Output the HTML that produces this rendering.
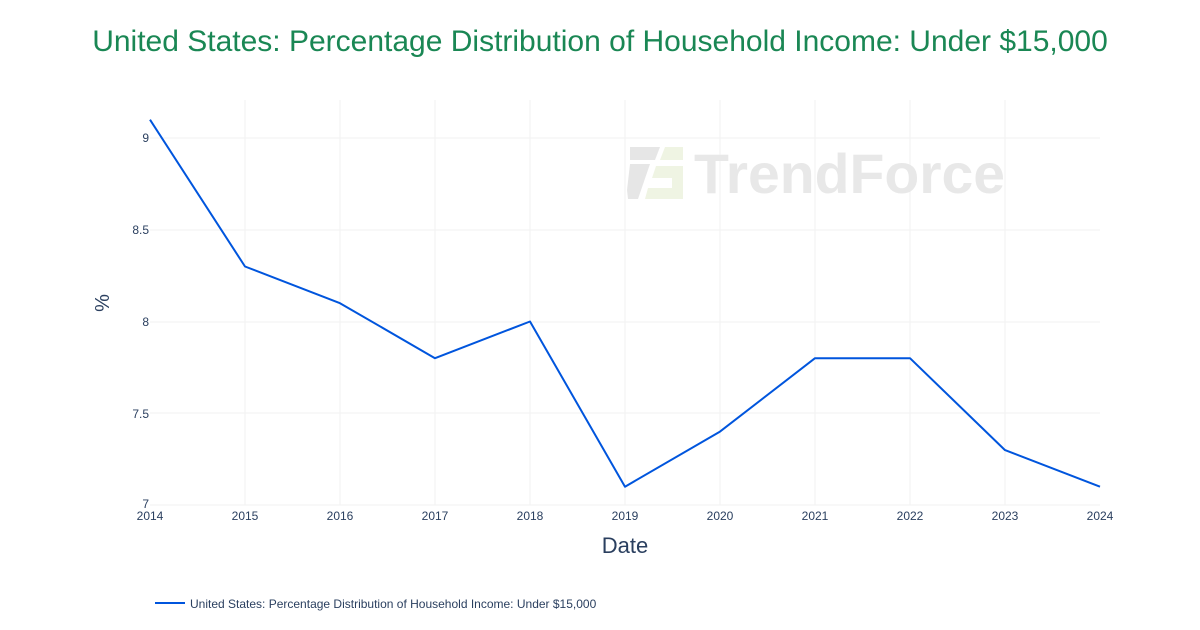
<!DOCTYPE html>
<html><head><meta charset="utf-8"><style>
html,body{margin:0;padding:0;background:#fff;}
svg{display:block;}
text{font-family:"Liberation Sans",Arial,sans-serif;}
</style></head><body>
<svg width="1200" height="630" viewBox="0 0 1200 630" xmlns="http://www.w3.org/2000/svg">
<rect width="1200" height="630" fill="#fff"/>
<text x="600" y="51" text-anchor="middle" font-size="30" fill="#1a8754">United States: Percentage Distribution of Household Income: Under $15,000</text>
<g stroke="#f2f2f2" stroke-width="1">
<line x1="245" y1="100" x2="245" y2="505"/>
<line x1="340" y1="100" x2="340" y2="505"/>
<line x1="435" y1="100" x2="435" y2="505"/>
<line x1="530" y1="100" x2="530" y2="505"/>
<line x1="625" y1="100" x2="625" y2="505"/>
<line x1="720" y1="100" x2="720" y2="505"/>
<line x1="815" y1="100" x2="815" y2="505"/>
<line x1="910" y1="100" x2="910" y2="505"/>
<line x1="1005" y1="100" x2="1005" y2="505"/>
<line x1="150" y1="138" x2="1100" y2="138"/>
<line x1="150" y1="230" x2="1100" y2="230"/>
<line x1="150" y1="322" x2="1100" y2="322"/>
<line x1="150" y1="413" x2="1100" y2="413"/>
<line x1="150" y1="505" x2="1100" y2="505"/>
</g>
<!-- watermark -->
<g opacity="0.9">
<polygon points="630,147 660,147 655,160 630,160" fill="#e4e4e4"/>
<polygon points="630,164 650,164 638,199 628,199 627,190" fill="#e4e4e4"/>
<polygon points="665,147 683,147 683,160 660,160" fill="#eef3e0"/>
<polygon points="656,166 683,166 683,199 645,199 648,188 672,188 672,178 652,178" fill="#eef3e0"/>
<text x="694" y="193" font-size="56" font-weight="bold" fill="#e6e6e6" textLength="311" lengthAdjust="spacingAndGlyphs">TrendForce</text>
</g>
<polyline fill="none" stroke="#0055dd" stroke-width="2" stroke-linejoin="round" points="150,119.7 245,266.5 340,303.2 435,358.2 530,321.5 625,486.7 720,431.6 815,358.2 910,358.2 1005,450.1 1100,486.7"/>
<g font-size="12" fill="#2a3f5f" text-anchor="end">
<text x="149" y="142">9</text>
<text x="149" y="234">8.5</text>
<text x="149" y="326">8</text>
<text x="149" y="418">7.5</text>
<text x="149" y="508">7</text>
</g>
<g font-size="12" fill="#2a3f5f" text-anchor="middle">
<text x="150" y="520">2014</text>
<text x="245" y="520">2015</text>
<text x="340" y="520">2016</text>
<text x="435" y="520">2017</text>
<text x="530" y="520">2018</text>
<text x="625" y="520">2019</text>
<text x="720" y="520">2020</text>
<text x="815" y="520">2021</text>
<text x="910" y="520">2022</text>
<text x="1005" y="520">2023</text>
<text x="1100" y="520">2024</text>
</g>
<text x="625" y="553" font-size="22" fill="#2a3f5f" text-anchor="middle">Date</text>
<text transform="translate(109,303) rotate(-90)" font-size="20" fill="#2a3f5f" text-anchor="middle">%</text>
<line x1="155" y1="603" x2="185" y2="603" stroke="#0055dd" stroke-width="2"/>
<text x="190" y="608" font-size="12" fill="#2a3f5f">United States: Percentage Distribution of Household Income: Under $15,000</text>
</svg>
</body></html>
